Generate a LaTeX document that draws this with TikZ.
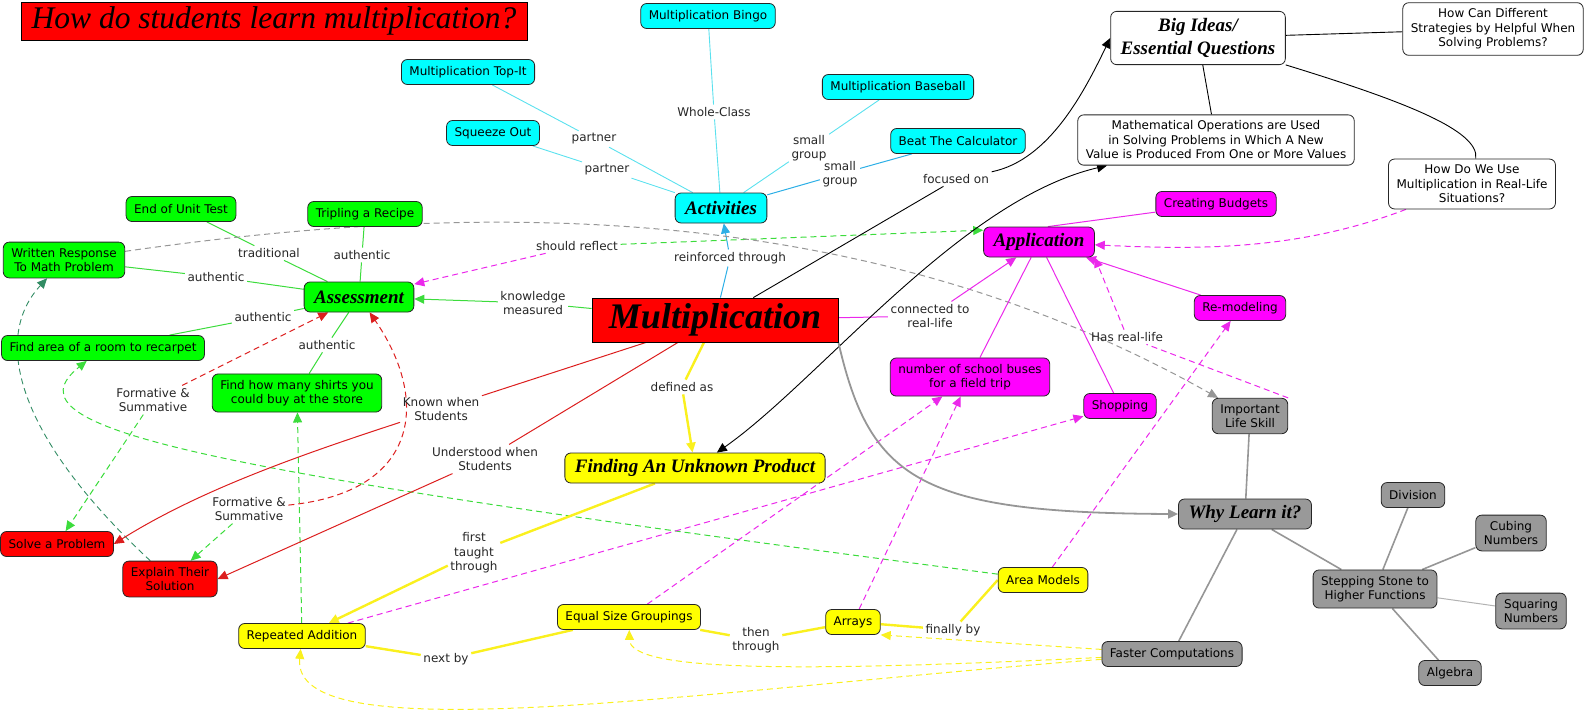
\documentclass[tikz,border=0pt]{standalone}
\usepackage{fontspec}
\usepackage{tikz}
\usetikzlibrary{arrows.meta,backgrounds}
\setmainfont{Liberation Serif}
\newfontfamily\mapfont{DejaVu Sans}
\newcommand{\cfont}{\mapfont\fontsize{12}{14.5}\selectfont}
\newcommand{\kfont}{\rmfamily\bfseries\itshape\fontsize{19}{23}\selectfont}

\definecolor{mapcyan}{RGB}{0,255,255}
\definecolor{cyanline}{RGB}{90,225,238}
\definecolor{skyline}{RGB}{45,175,230}
\definecolor{mapgreen}{RGB}{0,255,0}
\definecolor{greenline}{RGB}{60,220,60}
\definecolor{mapred}{RGB}{255,0,0}
\definecolor{redline}{RGB}{220,30,30}
\definecolor{mapmagenta}{RGB}{255,0,255}
\definecolor{magline}{RGB}{235,40,235}
\definecolor{mapyellow}{RGB}{255,255,0}
\definecolor{yelline}{RGB}{250,240,30}
\definecolor{mapgray}{RGB}{153,153,153}
\definecolor{grayline}{RGB}{150,150,150}
\definecolor{tealline}{RGB}{50,140,100}

\tikzset{
    concept/.style={rectangle,rounded corners=6pt,draw=black!85,line width=0.8pt,font=\cfont,align=center,inner xsep=8pt,inner ysep=6pt,minimum height=25pt},
    keyconcept/.style={concept,font=\kfont,inner xsep=10pt,inner ysep=5pt,minimum height=30pt},
    linklabel/.style={font=\cfont,align=center,inner sep=2.5pt,text=black!85},
    titlebox/.style={rectangle,draw=black,line width=0.9pt,fill=mapred,font=\rmfamily\itshape\fontsize{31.5}{36}\selectfont,minimum width=506pt,minimum height=38pt,inner sep=0pt},
    mainbox/.style={rectangle,draw=black,line width=0.9pt,fill=mapred,font=\rmfamily\bfseries\itshape\fontsize{36}{40}\selectfont,minimum width=246pt,minimum height=44pt,inner sep=0pt},
    directed/.style={-{Triangle[length=10pt,width=9pt]}},
    bothways/.style={{Triangle[length=10pt,width=9pt]}-{Triangle[length=10pt,width=9pt]}},
    dashes/.style={dash pattern=on 6pt off 4pt},
    cyanlink/.style={draw=cyanline,line width=0.9pt},
    bluelink/.style={draw=skyline,line width=1pt},
    greenlink/.style={draw=greenline,line width=1pt},
    greendash/.style={greenlink,dashes},
    redlink/.style={draw=redline,line width=1pt},
    reddash/.style={redlink,dashes},
    maglink/.style={draw=magline,line width=1pt},
    magdash/.style={maglink,dashes},
    yellowlink/.style={draw=yelline,line width=2.4pt},
    yellowdash/.style={draw=yelline,line width=1pt,dashes},
    graylink/.style={draw=grayline,line width=1.6pt},
    lightgraylink/.style={draw=black!30,line width=1pt},
    graydash/.style={draw=grayline,line width=1pt,dashes},
    tealdash/.style={draw=tealline,line width=0.9pt,dashes},
    blacklink/.style={draw=black,line width=0.9pt},
    }

\begin{document}
\begin{tikzpicture}[x=1pt,y=-1pt]
    \useasboundingbox (0,0) rectangle (1587,721);

    \node[titlebox] (title) at (274,21) {How do students learn multiplication?};

    % activities
    \node[concept,fill=mapcyan] (bingo) at (708,16) {Multiplication Bingo};
    \node[concept,fill=mapcyan] (topit) at (468,72) {Multiplication Top-It};
    \node[concept,fill=mapcyan] (baseball) at (898,87) {Multiplication Baseball};
    \node[concept,fill=mapcyan] (squeeze) at (493,133) {Squeeze Out};
    \node[concept,fill=mapcyan] (beatcalc) at (958,141) {Beat The Calculator};
    \node[keyconcept,fill=mapcyan] (activities) at (721,208) {Activities};

    % big ideas
    \node[keyconcept,fill=white,inner ysep=7pt] (bigideas) at (1198,38) {Big Ideas/\\Essential Questions};
    \node[concept,fill=white] (howcan) at (1493,29) {How Can Different\\Strategies by Helpful When\\Solving Problems?};
    \node[concept,fill=white] (mathops) at (1216,140) {Mathematical Operations are Used\\in Solving Problems in Which A New\\Value is Produced From One or More Values};
    \node[concept,fill=white] (howdo) at (1472,184) {How Do We Use\\Multiplication in Real-Life\\Situations?};

    % application
    \node[concept,fill=mapmagenta] (budgets) at (1216,204) {Creating Budgets};
    \node[keyconcept,fill=mapmagenta] (application) at (1039,242) {Application};
    \node[concept,fill=mapmagenta] (remodel) at (1240,308) {Re-modeling};
    \node[concept,fill=mapmagenta] (buses) at (970,377) {number of school buses\\for a field trip};
    \node[concept,fill=mapmagenta] (shopping) at (1120,406) {Shopping};

    % assessment
    \node[concept,fill=mapgreen] (unittest) at (181,209) {End of Unit Test};
    \node[concept,fill=mapgreen] (recipe) at (365,214) {Tripling a Recipe};
    \node[concept,fill=mapgreen] (written) at (64,260) {Written Response\\To Math Problem};
    \node[keyconcept,fill=mapgreen] (assessment) at (359,297) {Assessment};
    \node[concept,fill=mapgreen] (roomarea) at (103,348) {Find area of a room to recarpet};
    \node[concept,fill=mapgreen] (shirts) at (297,393) {Find how many shirts you\\could buy at the store};
    \node[concept,fill=mapred] (solve) at (57,544) {Solve a Problem};
    \node[concept,fill=mapred] (explain) at (170,579) {Explain Their\\Solution};

    \node[mainbox] (mult) at (715,320) {Multiplication};

    % definition
    \node[keyconcept,fill=mapyellow,inner ysep=6pt] (finding) at (695,468) {Finding An Unknown Product};
    \node[concept,fill=mapyellow] (areamodels) at (1043,580) {Area Models};
    \node[concept,fill=mapyellow] (groupings) at (629,617) {Equal Size Groupings};
    \node[concept,fill=mapyellow] (arrays) at (853,622) {Arrays};
    \node[concept,fill=mapyellow] (repadd) at (302,636) {Repeated Addition};

    % why learn it
    \node[concept,fill=mapgray] (lifeskill) at (1250,416) {Important\\Life Skill};
    \node[keyconcept,fill=mapgray] (whylearn) at (1245,514) {Why Learn it?};
    \node[concept,fill=mapgray] (division) at (1413,495) {Division};
    \node[concept,fill=mapgray] (cubing) at (1511,533) {Cubing\\Numbers};
    \node[concept,fill=mapgray] (stepping) at (1375,589) {Stepping Stone to\\Higher Functions};
    \node[concept,fill=mapgray] (squaring) at (1531,611) {Squaring\\Numbers};
    \node[concept,fill=mapgray] (algebra) at (1450,673) {Algebra};
    \node[concept,fill=mapgray] (faster) at (1172,654) {Faster Computations};

    % link labels
    \node[linklabel] (lwhole) at (714,112) {Whole-Class};
    \node[linklabel] (lpartnerA) at (594,139) {partner};
    \node[linklabel] (lpartnerB) at (607,170) {partner};
    \node[linklabel] (lsmallA) at (809,148) {small\\group};
    \node[linklabel] (lsmallB) at (840,174) {small\\group};
    \node[linklabel] (lfocused) at (956,179) {focused on};
    \node[linklabel] (lreflect) at (577,246) {should reflect};
    \node[linklabel] (lreinforced) at (730,258) {reinforced through};
    \node[linklabel] (ltraditional) at (269,253) {traditional};
    \node[linklabel] (lauthA) at (362,255) {authentic};
    \node[linklabel] (lauthB) at (216,277) {authentic};
    \node[linklabel] (lauthC) at (263,317) {authentic};
    \node[linklabel] (lauthD) at (327,345) {authentic};
    \node[linklabel] (lknowledge) at (533,303) {knowledge\\measured};
    \node[linklabel] (lconnected) at (930,316) {connected to\\real-life};
    \node[linklabel] (lhasreal) at (1127,337) {Has real-life};
    \node[linklabel] (ldefined) at (682,387) {defined as};
    \node[linklabel] (lformA) at (153,400) {Formative \&\\Summative};
    \node[linklabel] (lknown) at (441,409) {Known when\\Students};
    \node[linklabel] (lunderstood) at (485,459) {Understood when\\Students};
    \node[linklabel] (lformB) at (249,509) {Formative \&\\Summative};
    \node[linklabel] (lfirst) at (474,553) {first\\taught\\through};
    \node[linklabel] (lnextby) at (446,659) {next by};
    \node[linklabel] (lthen) at (756,640) {then\\through};
    \node[linklabel] (lfinally) at (953,630) {finally by};

    \begin{scope}[on background layer]
    % activities
    \draw[cyanlink] (bingo) to (lwhole);
    \draw[cyanlink] (lwhole) to (activities);
    \draw[cyanlink] (topit) to (lpartnerA);
    \draw[cyanlink] (lpartnerA) to (activities);
    \draw[cyanlink] (squeeze) to (lpartnerB);
    \draw[cyanlink] (lpartnerB) to (activities);
    \draw[cyanlink] (baseball) to (lsmallA);
    \draw[cyanlink] (lsmallA) to (activities);
    \draw[bluelink] (beatcalc) to (lsmallB);
    \draw[bluelink] (lsmallB) to (activities);
    \draw[bluelink] (mult) to (lreinforced);
    \draw[bluelink,directed] (lreinforced) to (activities);

    % assessment
    \draw[greenlink] (unittest) to (ltraditional);
    \draw[greenlink] (ltraditional) to (assessment);
    \draw[greenlink] (recipe) to (lauthA);
    \draw[greenlink] (lauthA) to (assessment);
    \draw[greenlink] (written) to (lauthB);
    \draw[greenlink] (lauthB) to (assessment);
    \draw[greenlink] (roomarea) to (lauthC);
    \draw[greenlink] (lauthC) to (assessment);
    \draw[greenlink] (shirts) to (lauthD);
    \draw[greenlink] (lauthD) to (assessment);
    \draw[greenlink] (mult) to (lknowledge);
    \draw[greenlink,directed] (lknowledge) to (assessment);
    \draw[magdash,directed] (lreflect) to (assessment);
    \draw[greendash,directed] (lreflect) to (application.168);
    \draw[graydash,directed] (written) .. controls (450,205) and (850,190) .. (lifeskill);
    \draw[tealdash,directed] (explain) .. controls (20,440) and (-10,340) .. (written);
    \draw[reddash,directed] (lformA) to (assessment);
    \draw[greendash,directed] (lformA) to (solve);
    \draw[reddash,directed] (lformB) .. controls (420,492) and (430,400) .. (assessment);
    \draw[greendash,directed] (lformB) to (explain);
    \draw[greendash,directed] (areamodels) .. controls (200,470) and (0,430) .. (roomarea);
    \draw[greendash,directed] (repadd) to (shirts);
    \draw[redlink] (mult) to (lknown);
    \draw[redlink,directed] (lknown) .. controls (300,455) and (200,490) .. (solve.east);
    \draw[redlink] (mult) to (lunderstood);
    \draw[redlink,directed] (lunderstood) to (explain.east);

    % definition
    \draw[yellowlink] (mult) to (ldefined);
    \draw[yellowlink,directed] (ldefined) to (finding);
    \draw[yellowlink] (finding) to (lfirst);
    \draw[yellowlink,directed] (lfirst) to (repadd);
    \draw[yellowlink] (repadd) to (lnextby);
    \draw[yellowlink] (lnextby) to (groupings);
    \draw[yellowlink] (groupings) to (lthen);
    \draw[yellowlink] (lthen) to (arrays);
    \draw[yellowlink] (areamodels.west) to (lfinally);
    \draw[yellowlink] (lfinally) to (arrays);
    \draw[yellowdash,directed] (faster) to (arrays.south east);
    \draw[yellowdash,directed] (faster) .. controls (800,672) and (630,672) .. (groupings);
    \draw[yellowdash,directed] (faster) .. controls (700,690) and (290,755) .. (repadd);

    % application
    \draw[maglink] (mult) to (lconnected);
    \draw[maglink,directed] (lconnected) to (application);
    \draw[maglink] (application) to (buses);
    \draw[maglink] (application) to (shopping);
    \draw[maglink] (budgets) to (application.60);
    \draw[maglink,directed] (remodel) to (application);
    \draw[magdash,directed] (howdo) .. controls (1300,250) and (1200,250) .. (application);
    \draw[magdash] (lifeskill.north east) to (lhasreal);
    \draw[magdash,directed] (lhasreal) to (application.south east);
    \draw[magdash,directed] (repadd) to (shopping);
    \draw[magdash,directed] (groupings) to (buses);
    \draw[magdash,directed] (arrays) to (buses);
    \draw[magdash,directed] (areamodels) to (remodel);

    % big ideas
    \draw[blacklink] (mult) to (lfocused);
    \draw[blacklink,directed] (lfocused) .. controls (1050,160) and (1085,90) .. (bigideas.west);
    \draw[blacklink,bothways] (finding) .. controls (820,380) and (960,200) .. (mathops);
    \draw[blacklink] (bigideas) to (howcan);
    \draw[blacklink] (bigideas) to (mathops);
    \draw[blacklink] (bigideas) .. controls (1400,100) and (1480,130) .. (howdo);

    % why learn it
    \draw[graylink,line width=1.8pt,directed] (mult.south east) .. controls (870,480) and (920,513) .. (whylearn.west);
    \draw[graylink] (lifeskill) to (whylearn);
    \draw[graylink] (whylearn) to (faster);
    \draw[graylink] (whylearn) to (stepping);
    \draw[graylink] (stepping) to (division);
    \draw[graylink] (stepping) to (cubing);
    \draw[lightgraylink] (stepping) to (squaring);
    \draw[graylink] (stepping) to (algebra);
    \end{scope}
\end{tikzpicture}
\end{document}
